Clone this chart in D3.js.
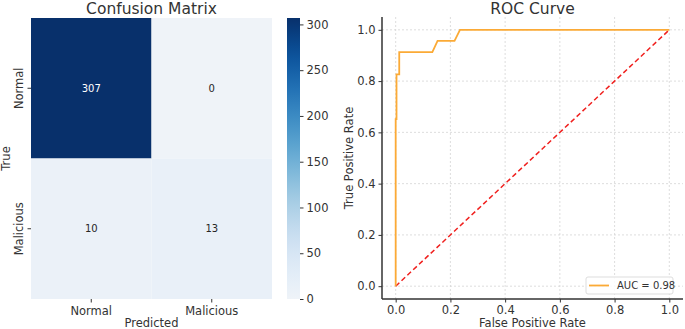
<!DOCTYPE html>
<html>
<head>
<meta charset="utf-8">
<script src="https://cdn.jsdelivr.net/npm/d3@7"></script>
<style>
  body { margin: 0; background: #fff; }
  text { font-family: "DejaVu Sans", sans-serif; fill: #333; }
</style>
</head>
<body>
<div id="chart"></div>
<script>
// data
const classes = ["Normal", "Malicious"]
const matrix = [[307, 0], [10, 13]]
const cbTicks = [0, 50, 100, 150, 200, 250, 300]
const fpr = [0, 0, 0.003, 0.003, 0.013, 0.013, 0.134, 0.153, 0.215, 0.235, 1]
const tpr = [0, 0.652, 0.652, 0.826, 0.826, 0.913, 0.913, 0.957, 0.957, 1, 1]
const rocTicks = [0, 0.2, 0.4, 0.6, 0.8, 1.0]
const aucLabel = "AUC = 0.98"

const width = 685
const height = 329
const fs = 11.5

const svg = d3.select("#chart").append("svg")
  .attr("width", width)
  .attr("height", height)

// ---------- confusion matrix ----------
const hm = {left: 31, right: 272, top: 18, bottom: 299}
const xb = d3.scaleBand().domain([0, 1]).range([hm.left, hm.right])
const yb = d3.scaleBand().domain([0, 1]).range([hm.top, hm.bottom])
const vmax = d3.max(matrix.flat())
// matplotlib "Blues", low end a touch greyer like the picture
const blues = d3.interpolateRgbBasis(["#eff3f8", "#deebf7", "#c6dbef", "#9ecae1",
  "#6baed6", "#4292c6", "#2171b5", "#08519c", "#08306b"])
const color = d3.scaleSequential(blues).domain([0, vmax])

const cells = []
matrix.forEach((row, i) => row.forEach((v, j) => cells.push({i, j, v})))

svg.append("g").selectAll("rect")
  .data(cells)
  .join("rect")
    .attr("x", d => xb(d.j))
    .attr("y", d => yb(d.i))
    .attr("width", xb.bandwidth())
    .attr("height", yb.bandwidth())
    .attr("fill", d => color(d.v))

svg.append("g").selectAll("text")
  .data(cells)
  .join("text")
    .attr("x", d => xb(d.j) + xb.bandwidth() / 2)
    .attr("y", d => yb(d.i) + yb.bandwidth() / 2)
    .attr("dy", "0.35em")
    .attr("text-anchor", "middle")
    .style("font-size", "10px")
    .style("fill", d => d.v > vmax / 2 ? "#fff" : "#262626")
    .text(d => d.v)

// x ticks
const hx = svg.append("g").attr("transform", `translate(0,${hm.bottom})`)
  .call(d3.axisBottom(xb).tickFormat(d => classes[d]).tickSize(3.5).tickPadding(4))
hx.select(".domain").remove()
hx.selectAll("line").attr("stroke", "#333")
hx.selectAll("text").style("font-size", fs + "px").attr("fill", "#333")

// y ticks (rotated labels)
const hy = svg.append("g").attr("transform", `translate(${hm.left},0)`)
  .call(d3.axisLeft(yb).tickFormat(d => classes[d]).tickSize(3.5))
hy.select(".domain").remove()
hy.selectAll("line").attr("stroke", "#333")
hy.selectAll("text")
  .style("font-size", fs + "px")
  .attr("fill", "#333")
  .attr("x", 0).attr("dy", 0)
  .attr("text-anchor", "middle")
  .attr("transform", "translate(-8,0) rotate(-90)")

svg.append("text")
  .attr("x", (hm.left + hm.right) / 2).attr("y", 14)
  .attr("text-anchor", "middle").style("font-size", "15.5px")
  .text("Confusion Matrix")
svg.append("text")
  .attr("x", (hm.left + hm.right) / 2).attr("y", 327)
  .attr("text-anchor", "middle").style("font-size", fs + "px")
  .text("Predicted")
svg.append("text")
  .attr("transform", `translate(10,${(hm.top + hm.bottom) / 2}) rotate(-90)`)
  .attr("text-anchor", "middle").style("font-size", fs + "px")
  .text("True")

// colorbar
const cb = {left: 287, w: 13}
const cy = d3.scaleLinear().domain([0, vmax]).range([hm.bottom, hm.top])
const defs = svg.append("defs")
const grad = defs.append("linearGradient").attr("id", "cbgrad")
  .attr("x1", 0).attr("y1", 1).attr("x2", 0).attr("y2", 0)
d3.range(0, 1.0001, 0.05).forEach(t => {
  grad.append("stop").attr("offset", t).attr("stop-color", color(t * vmax))
})
svg.append("rect")
  .attr("x", cb.left).attr("y", hm.top)
  .attr("width", cb.w).attr("height", hm.bottom - hm.top)
  .attr("fill", "url(#cbgrad)")
const cax = svg.append("g").attr("transform", `translate(${cb.left + cb.w},0)`)
  .call(d3.axisRight(cy).tickValues(cbTicks).tickSize(3.5).tickPadding(3))
cax.select(".domain").remove()
cax.selectAll("line").attr("stroke", "#333")
cax.selectAll("text").style("font-size", fs + "px").attr("fill", "#333")

// ---------- ROC curve ----------
const rc = {left: 382, right: 683, top: 17, bottom: 299}
const x = d3.scaleLinear().domain([-0.05, 1.05]).range([rc.left, rc.right])
const y = d3.scaleLinear().domain([-0.05, 1.05]).range([rc.bottom, rc.top])

// grid
svg.append("g").selectAll("line.vg")
  .data(rocTicks).join("line")
    .attr("x1", d => x(d)).attr("x2", d => x(d))
    .attr("y1", rc.top).attr("y2", rc.bottom)
    .attr("stroke", "#d6d6d6").attr("stroke-dasharray", "2,2").attr("stroke-width", 0.8)
svg.append("g").selectAll("line.hg")
  .data(rocTicks).join("line")
    .attr("x1", rc.left).attr("x2", rc.right)
    .attr("y1", d => y(d)).attr("y2", d => y(d))
    .attr("stroke", "#d6d6d6").attr("stroke-dasharray", "2,2").attr("stroke-width", 0.8)

// chance line
svg.append("line")
  .attr("x1", x(0)).attr("y1", y(0)).attr("x2", x(1)).attr("y2", y(1))
  .attr("stroke", "#f0201e").attr("stroke-width", 1.5).attr("stroke-dasharray", "5,3")

const roc = fpr.map((f, i) => [f, tpr[i]])
svg.append("path")
  .datum(roc)
  .attr("fill", "none")
  .attr("stroke", "#fbaa36")
  .attr("stroke-width", 1.8)
  .attr("d", d3.line().x(d => x(d[0])).y(d => y(d[1])))

// axes
const rx = svg.append("g").attr("transform", `translate(0,${rc.bottom})`)
  .call(d3.axisBottom(x).tickValues(rocTicks).tickFormat(d3.format(".1f")).tickSize(3.5).tickPadding(3))
rx.select(".domain").attr("stroke", "#333").attr("stroke-width", 1.5)
  .attr("d", `M${rc.left},0H${rc.right}`)
rx.selectAll("line").attr("stroke", "#333")
rx.selectAll("text").style("font-size", fs + "px").attr("fill", "#333")

const ry = svg.append("g").attr("transform", `translate(${rc.left},0)`)
  .call(d3.axisLeft(y).tickValues(rocTicks).tickFormat(d3.format(".1f")).tickSize(3.5).tickPadding(3))
ry.select(".domain").attr("stroke", "#333").attr("stroke-width", 1.5)
  .attr("d", `M0,${rc.top}V${rc.bottom}`)
ry.selectAll("line").attr("stroke", "#333")
ry.selectAll("text").style("font-size", fs + "px").attr("fill", "#333")

svg.append("text")
  .attr("x", (rc.left + rc.right) / 2).attr("y", 14)
  .attr("text-anchor", "middle").style("font-size", "15.5px")
  .text("ROC Curve")
svg.append("text")
  .attr("x", (rc.left + rc.right) / 2).attr("y", 327)
  .attr("text-anchor", "middle").style("font-size", fs + "px")
  .text("False Positive Rate")
svg.append("text")
  .attr("transform", `translate(353,${(rc.top + rc.bottom) / 2}) rotate(-90)`)
  .attr("text-anchor", "middle").style("font-size", fs + "px")
  .text("True Positive Rate")

// legend
const lg = svg.append("g").attr("transform", "translate(586,277)")
lg.append("rect")
  .attr("width", 87).attr("height", 17).attr("rx", 2)
  .attr("fill", "#fff").attr("fill-opacity", 0.85)
  .attr("stroke", "#ddd")
lg.append("line")
  .attr("x1", 3).attr("x2", 23).attr("y1", 8.5).attr("y2", 8.5)
  .attr("stroke", "#fbaa36").attr("stroke-width", 1.8)
lg.append("text")
  .attr("x", 31).attr("y", 8.5).attr("dy", "0.35em")
  .style("font-size", "10px")
  .text(aucLabel)
</script>
</body>
</html>
